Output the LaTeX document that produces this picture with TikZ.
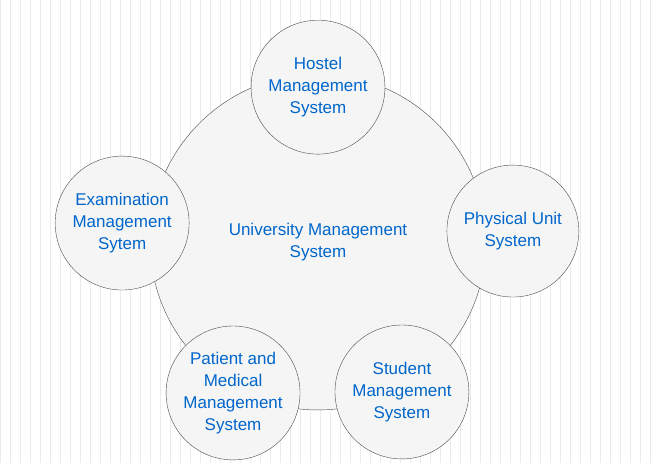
\documentclass[tikz,border=0pt]{standalone}
\usepackage{fontspec}
\setmainfont{Liberation Sans}
\definecolor{txtblue}{HTML}{0066CC}
\definecolor{fillgray}{HTML}{F5F5F5}
\definecolor{gridgray}{HTML}{EBEBEB}
\tikzstyle{unit} = [circle,draw=black!70,fill=fillgray,text=txtblue,align=center,font=\fontsize{17}{22}\selectfont,inner sep=0pt]

\begin{document}
\begin{tikzpicture}[x=1pt,y=-1pt]

% Background
\fill [white] (0,0) rectangle (659,463);
\draw [gridgray,step=10] (0,0) grid (659,463);
\useasboundingbox (0,0) rectangle (659,463);

% Main system
\node [unit,minimum size=336] (uni) at (318,242) {University Management\\System};

% Sub systems
\node [unit,minimum size=134] (hostel) at (318,87) {Hostel\\Management\\System};
\node [unit,minimum size=132] (physical) at (513,231) {Physical Unit\\System};
\node [unit,minimum size=134] (student) at (402,392) {Student\\Management\\System};
\node [unit,minimum size=134] (patient) at (233,393) {Patient and\\Medical\\Management\\System};
\node [unit,minimum size=134] (exam) at (122,223) {Examination\\Management\\Sytem};

\end{tikzpicture}
\end{document}
